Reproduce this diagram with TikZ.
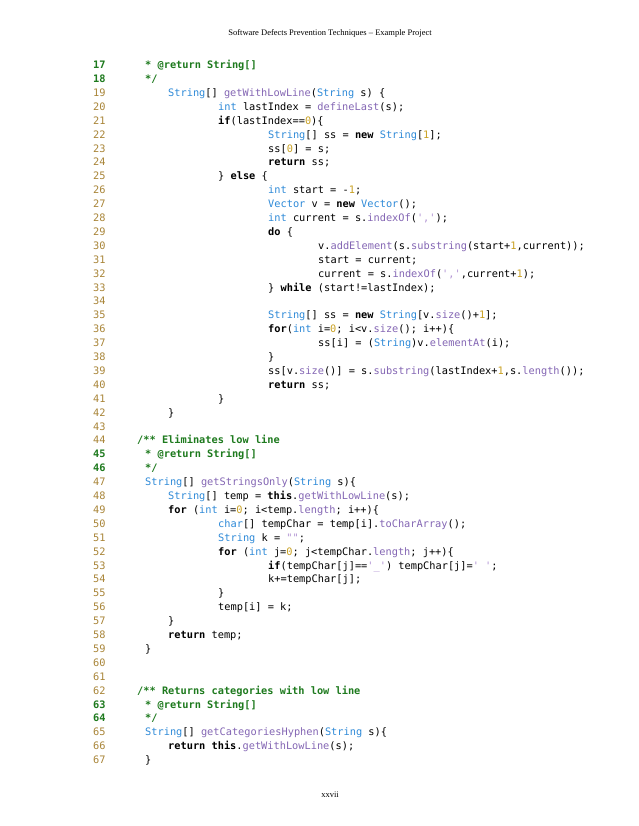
\documentclass[tikz,border=0pt]{standalone}
\usepackage{fontspec}
\setmainfont{Liberation Serif}
\newfontfamily\code{DejaVu Sans Mono}[Ligatures=NoCommon]
\definecolor{cty}{HTML}{2E8AD8}
\definecolor{cme}{HTML}{8466B4}
\definecolor{cnu}{HTML}{C9A020}
\definecolor{cst}{HTML}{B294D4}
\definecolor{ccm}{HTML}{1E7A1E}
\definecolor{cln}{HTML}{A98538}
\newcommand\cK[1]{\textbf{#1}}
\newcommand\cT[1]{\textcolor{cty}{#1}}
\newcommand\cM[1]{\textcolor{cme}{#1}}
\newcommand\cN[1]{\textcolor{cnu}{#1}}
\newcommand\cS[1]{\textcolor{cst}{#1}}
\newcommand\cC[1]{\textcolor{ccm}{\bfseries #1}}
\newcommand\sq{\char"0027\relax}
\newcommand\dq{\char"0022\relax}
\tikzset{
 codeline/.style={anchor=base west,inner sep=0pt,font=\code\fontsize{10.3}{12}\selectfont},
 lnum/.style={codeline,text=cln},
 lnumg/.style={codeline,text=ccm,font=\code\bfseries\fontsize{10.3}{12}\selectfont},
}
\newcommand\cl[3]{\node[codeline] (c#1) at ({#2pt},{(757.3-(#1-17)*13.9)*1pt}) {#3};}
\newcommand\lnn[1]{\node[lnum] (n#1) at (93pt,{(757.3-(#1-17)*13.9)*1pt}) {#1};}
\newcommand\lnnG[1]{\node[lnumg] (n#1) at (93pt,{(757.3-(#1-17)*13.9)*1pt}) {#1};}
\begin{document}
\begin{tikzpicture}
\fill[white] (0,0) rectangle (638pt,826pt);
\useasboundingbox (0,0) rectangle (638pt,826pt);
\node[font=\fontsize{8.5}{10}\selectfont] (hdr) at (330pt,793pt) {Software Defects Prevention Techniques – Example Project};
\node[font=\fontsize{8.5}{10}\selectfont] (ftr) at (330pt,31pt) {xxvii};
\lnnG{17}\lnnG{18}
\foreach \i in {19,...,44} {\lnn{\i}}
\lnnG{45}\lnnG{46}
\foreach \i in {47,...,62} {\lnn{\i}}
\lnnG{63}\lnnG{64}
\lnn{65}\lnn{66}\lnn{67}
\cl{17}{145}{\cC{* @return String[]}}
\cl{18}{145}{\cC{*/}}
\cl{19}{168}{\cT{String}[] \cM{getWithLowLine}(\cT{String} s) \{}
\cl{20}{218}{\cT{int} lastIndex = \cM{defineLast}(s);}
\cl{21}{218}{\cK{if}(lastIndex==\cN{0})\{}
\cl{22}{268}{\cT{String}[] ss = \cK{new} \cT{String}[\cN{1}];}
\cl{23}{268}{ss[\cN{0}] = s;}
\cl{24}{268}{\cK{return} ss;}
\cl{25}{218}{\} \cK{else} \{}
\cl{26}{268}{\cT{int} start = -\cN{1};}
\cl{27}{268}{\cT{Vector} v = \cK{new} \cT{Vector}();}
\cl{28}{268}{\cT{int} current = s.\cM{indexOf}(\cS{\sq,\sq});}
\cl{29}{268}{\cK{do} \{}
\cl{30}{318}{v.\cM{addElement}(s.\cM{substring}(start+\cN{1},current));}
\cl{31}{318}{start = current;}
\cl{32}{318}{current = s.\cM{indexOf}(\cS{\sq,\sq},current+\cN{1});}
\cl{33}{268}{\} \cK{while} (start!=lastIndex);}
\cl{35}{268}{\cT{String}[] ss = \cK{new} \cT{String}[v.\cM{size}()+\cN{1}];}
\cl{36}{268}{\cK{for}(\cT{int} i=\cN{0}; i<v.\cM{size}(); i++)\{}
\cl{37}{318}{ss[i] = (\cT{String})v.\cM{elementAt}(i);}
\cl{38}{268}{\}}
\cl{39}{268}{ss[v.\cM{size}()] = s.\cM{substring}(lastIndex+\cN{1},s.\cM{length}());}
\cl{40}{268}{\cK{return} ss;}
\cl{41}{218}{\}}
\cl{42}{168}{\}}
\cl{44}{137}{\cC{/** Eliminates low line}}
\cl{45}{145}{\cC{* @return String[]}}
\cl{46}{145}{\cC{*/}}
\cl{47}{145}{\cT{String}[] \cM{getStringsOnly}(\cT{String} s)\{}
\cl{48}{168}{\cT{String}[] temp = \cK{this}.\cM{getWithLowLine}(s);}
\cl{49}{168}{\cK{for} (\cT{int} i=\cN{0}; i<temp.\cM{length}; i++)\{}
\cl{50}{218}{\cT{char}[] tempChar = temp[i].\cM{toCharArray}();}
\cl{51}{218}{\cT{String} k = \cS{\dq\dq};}
\cl{52}{218}{\cK{for} (\cT{int} j=\cN{0}; j<tempChar.\cM{length}; j++)\{}
\cl{53}{268}{\cK{if}(tempChar[j]==\cS{\sq\_\sq}) tempChar[j]=\cS{\sq\ \sq};}
\cl{54}{268}{k+=tempChar[j];}
\cl{55}{218}{\}}
\cl{56}{218}{temp[i] = k;}
\cl{57}{168}{\}}
\cl{58}{168}{\cK{return} temp;}
\cl{59}{145}{\}}
\cl{62}{137}{\cC{/** Returns categories with low line}}
\cl{63}{145}{\cC{* @return String[]}}
\cl{64}{145}{\cC{*/}}
\cl{65}{145}{\cT{String}[] \cM{getCategoriesHyphen}(\cT{String} s)\{}
\cl{66}{168}{\cK{return} \cK{this}.\cM{getWithLowLine}(s);}
\cl{67}{145}{\}}
\end{tikzpicture}
\end{document}
